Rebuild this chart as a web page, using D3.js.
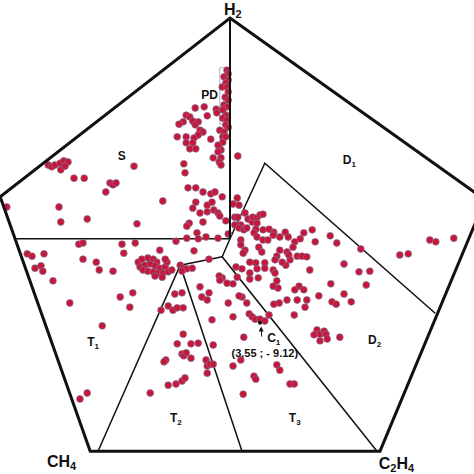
<!DOCTYPE html>
<html>
<head>
<meta charset="utf-8">
<script src="https://cdn.jsdelivr.net/npm/d3@7"></script>
<style>
body{margin:0;background:#fff}
svg{display:block}
text{font-family:"Liberation Sans",Arial,sans-serif;font-weight:bold;fill:#111}
</style>
</head>
<body>
<svg id="pentagon"></svg>
<script>
// pentagon outline and zone boundaries (Duval-like units)
var outline = [[0,40],[42.5,9.7],[25,-32.2],[-23.3,-32.2],[-38.3,10.2]];
var axisLine = [[0,40],[0,3.2]];
var zoneLines = [
    [[-35.6,3.2],[0,3.2]],
    [[0,3.2],[5.8,15.8],[34.2,-9.2]],
    [[0,3.2],[-1.3,0.2],[24.5,-32.2]],
    [[-1.3,0.2],[-8.3,-1.2]],
    [[-22,-32.2],[-8.3,-1.2],[2,-32.2]]
];
var pdBox = [[-1.7,31.7],[-0.5,22.3]];

var gasNames = [["H","2"],["CH","4"],["C","2","H","4"]];
var zoneNames = [["S"],["PD"],["D","1"],["D","2"],["T","1"],["T","2"],["T","3"]];
var c1Name = ["C","1"];
var c1Coords = "(3.55 ; - 9.12)";
var c1Point = [5,-10.8];

var pointsS = [
[-0.5,31.3],[-0.3,30.7],[-1,30.2],[-0.3,29.7],[-0.7,29.2],[-1.3,28.5],[-0.5,28.5],[-0.3,27.7],
[-0.8,26.8],[-0.3,26.3],[-1,25.5],[-0.5,25.2],[-1.2,24.7],[-0.7,23.8],[-1.2,23.3],[-0.5,23],
[-0.7,22.2],[-0.3,21.8],[-1.7,21.3],[-1,21],[-1.2,20.2],[-0.7,20.2],[-1.2,19.3],[-1.8,18.5],
[-1.5,18],[-2.8,16.7],[-1.5,16.7],[-2,18.8],
[-5.8,25],[-4.3,25.2],[-2.3,24.8],[-2.2,24.2],[-7.3,23.8],[-6.7,23.5],[-6.2,22.8],[-5.3,22.7],
[-7.8,22.7],[-8.5,22.3],[-5.8,22.2],[-3.8,23.7],[-5,21.3],[-4.5,21],[-5.3,20.5],[-3.2,19.8],
[-7.3,20.2],[-8.8,20.2],[-6,20],[-7.3,19.2],[-6.2,19.2],[-6.7,18.2],[-5.7,18.2],[-2,17.7],
[-1.8,16],[-1.5,15.5],[-7.7,15.7],[-7.5,14.2],[-16,15.3],
[-30.3,15.5],[-29.7,15.2],[-29.2,15.5],[-28.3,15.8],[-27.7,16.2],[-27,16],[-28.2,14.7],[-27.5,15.3],
[-26,13.3],[-24.3,13.3],[-20,12.5],[-19.5,12.2],[-19,12.5],[-20.7,11],
[-7,11.7],[-5.7,11.7],[-4.5,11],[-3.2,10.7],[-2.5,11],[-1.3,10.2],[-5.7,9.3],[-3.8,8.8],
[-3,9.3],[-6.2,8.3],[-5,7.5],[-3.8,7.7],[-2.7,8],[-2,7.5],[-1.7,7],[-0.7,6.2],
[-6.8,5.8],[-7.2,5.3],[-11.2,9.5],[-4.5,6],[-5.5,4.2],[-28.5,8.5],[-28.2,6],[-23.8,6.5],
[-15.5,5.7],[-37.2,8.5],[-4,3.5],[-2,3.3],[-7.2,3.3],[-0.3,4],[-5.3,3.2]
];
var pointsT1 = [
[-25.2,2.3],[-24.5,2.5],[-18,2.3],[-15.8,2.5],[-17.7,0.8],[-11.7,1.3],[-9,2.8],[-6,1.2],
[-33.8,0.7],[-33,0.3],[-31,0.7],[-32.5,-1.7],[-31.5,-1.3],[-31.2,-2.2],[-29.5,-3.8],
[-24.5,-0.2],[-22.3,-0.7],[-21.8,-2],[-19.5,-2.2],
[-15.3,-0.7],[-14.7,-0.2],[-13.7,0],[-12.8,-0.2],[-12.2,-0.7],[-15,-1.5],[-14.2,-1.2],[-13.3,-1],
[-12.5,-1.3],[-11.7,-1.7],[-10.8,-1.5],[-14.5,-2],[-13.7,-2.2],[-12.8,-2.3],[-12,-2.5],[-11.2,-2.5],
[-10.3,-2.3],[-9.7,-2],[-12.5,-3],[-11.3,-3.2],[-10.5,-0.7],[-8.3,-1.2],[-7.8,-1.7],[-7.2,-1.8],
[-8,-2.2],[-6.3,-1.7],[-10.8,-0.2],
[-18.3,-6.5],[-16.2,-5.8],[-16.7,-8.2],[-26.7,-7.5],[-21.3,-11.3],[-25,-23.5],[-23.8,-22.5],[-3.5,-0.2]
];
var pointsT2 = [
[-9.2,-6],[-8,-5.8],[-5,-4.8],[-4.7,-6.5],[-3.8,-7],[-11.5,-8.7],[-10.3,-8],[-9.5,-8.7],
[-8.8,-8.3],[-7.8,-8.3],[-7.8,-12.7],[-8.8,-14.3],[-6.5,-14.3],[-5.3,-14.2],[-8,-16],[-7.7,-16.3],
[-7.3,-15.8],[-6.5,-16.7],[-10.7,-17],[-11,-17.3],[-10.3,-21.2],[-9,-21],[-8,-20.5],[-7.5,-20],
[-13.3,-22.5],[-3.5,-5.8],[-1.3,-3.3],[-1.8,-3],[-0.5,-4.2],[-0.3,-7.5]
];
var pointsT3 = [
[-3,-10.3],[-2.8,-14.5],[-4,-17],[-3.8,-18],[-3.3,-17.7],[-2.8,-17.7],[-3.8,-19.2],[0.5,-18],
[0.5,-9.8],[-1.7,-3.7],[0.5,-4.3],[2.3,-13.2],[1.8,-17],[2.2,-22.7],[4,-19.7],[4.3,-20.2],
[7.8,-17.8],[8.3,-18.7],[10,-21],[10.7,-21],
[3.2,-9.3],[3.7,-9.8],[4.2,-10.2],[5,-10.2],[5.8,-10.5],
[2,-6.5],[1.5,-6.3],[2.8,-7.5],[8.2,-7.5],[6.5,-9.5],[10.7,-9.5]
];
var pointsD = [
[1.3,17],[1.2,10],[0.5,9],[1.5,8.8],[0.8,6.8],[1.3,6.8],[0.8,5.5],[1.8,5.5],[1.5,5],
[2.5,7.5],[3,6.5],[3.7,6],[3.8,6.8],[4.5,6.7],[5,7.2],[5.5,7.3],[4.5,5.8],[2.3,4.7],
[2.8,5],[4.3,4.8],[5.5,4.7],[6.5,4.8],[4,4.2],[4.5,3.5],[5.5,3],[6.3,3],[7.3,4.3],
[7.2,3.8],[8.3,3.5],[9.2,4.3],[9.7,3.5],[10.8,2.7],[12.3,4.2],[10.5,1.8],[11.7,3.2],
[8.3,1.3],[9.5,1],[11.2,0.3],[12,0.3],[12.8,0.2],[10,-0.3],[9.3,-1.2],[7.8,0.3],[7.5,-0.3],
[5.8,-0.8],[4.3,-0.8],[3.3,-0.7],[4.5,-1.8],[5.8,-1.7],[7.2,-2],[7.8,-3.8],[8,-5],[7.5,-2.5],
[2.5,1.3],[1.8,3],[1.8,2.2],[2.2,0.8],[1,-1.5],[1.2,-3.2],[3.3,-3.5],[4.7,-3.3],[7.2,-4.7],
[9.5,-7],[11.2,-7],[11.5,-4.7],[12.3,-5.3],[12.8,-7],[12.5,-8.2],[4.8,1.8],[5.3,1],
[8.7,-0.7],[9.8,0.5],[13.7,4.7],[16.7,3.7],[14.2,2.7],[17.8,2.5],[13.3,-2],[19,-1],
[21.8,1.5],[28.3,0.5],[29.7,0.7],[33.3,3],[34.3,2.7],[37.3,3.3],[21.5,-2.3],[23.3,-2.2],
[22.7,-4.5],[16.8,-4.3],[19,-6],[17,-7.3],[17.7,-7.7],[20.2,-7.3],[14.8,-6.3],[10.8,-5.3],
[7.3,-7.7],[3.3,-2.5],[2,-1.8],
[14.5,-12],[15,-12.7],[15.7,-12.2],[16,-12.7],[16.2,-13.5],[15,-13.8],[14,-12.8],[18.3,-13.2]
];

// label anchors (same units)
var gasAnchors = [[-1,40.5],[-30.5,-34.8],[24.8,-35.1]];
var zoneAnchors = [[-18.7,16.3],[-4.8,26.5],[18.8,15.7],[23,-14.3],[-23.8,-14.7],[-10,-27.3],[9.8,-27.3]];

var drawLabel = function(g, parts, x, y, size, subSize)
{
    var t = g.append("text")
        .attr("x", x)
        .attr("y", y)
        .style("font-size", size + "px");
    parts.forEach(function(p, i)
    {
        var isSub = i % 2 == 1;
        t.append("tspan")
            .attr("dy", i == 0 ? 0 : (isSub ? 3 : -3))
            .style("font-size", (isSub ? subSize : size) + "px")
            .text(p);
    });
    return t;
}

var displayPentagon = function(target)
{
    var screen = {width:474, height:474};

    var svg = d3.select(target)
        .attr("width", screen.width)
        .attr("height", screen.height);

    var xScale = d3.scaleLinear()
        .domain([-40, 40])
        .range([-10, 470]);

    var yScale = d3.scaleLinear()
        .domain([-35, 40])
        .range([468, 18]);

    var line = d3.line()
        .x(function(d){return xScale(d[0])})
        .y(function(d){return yScale(d[1])});

    var points = pointsS.concat(pointsT1, pointsT2, pointsT3, pointsD);

    svg.append("g")
        .selectAll("path")
        .data(zoneLines)
        .enter()
        .append("path")
        .attr("d", line)
        .attr("fill", "none")
        .attr("stroke", "#111")
        .attr("stroke-width", 1.5);

    svg.append("rect")
        .attr("x", xScale(pdBox[0][0]))
        .attr("y", yScale(pdBox[0][1]))
        .attr("width", xScale(pdBox[1][0]) - xScale(pdBox[0][0]))
        .attr("height", yScale(pdBox[1][1]) - yScale(pdBox[0][1]))
        .attr("fill", "none")
        .attr("stroke", "#a7b5c9")
        .attr("stroke-width", 1);

    svg.append("g")
        .selectAll("circle")
        .data(points)
        .enter()
        .append("circle")
        .attr("cx", function(d){return xScale(d[0])})
        .attr("cy", function(d){return yScale(d[1])})
        .attr("r", 3.4)
        .attr("fill", "#c8163b")
        .attr("stroke", "#80708f")
        .attr("stroke-width", 0.7);

    svg.append("path")
        .datum(axisLine)
        .attr("d", line)
        .attr("stroke", "#111")
        .attr("stroke-width", 2);

    svg.append("path")
        .datum(outline)
        .attr("d", function(d){return line(d) + "Z"})
        .attr("fill", "none")
        .attr("stroke", "#111")
        .attr("stroke-width", 3)
        .attr("stroke-linejoin", "miter");

    var labels = svg.append("g");

    gasNames.forEach(function(n, i)
    {
        drawLabel(labels, n, xScale(gasAnchors[i][0]), yScale(gasAnchors[i][1]), 16, 11);
    });

    zoneNames.forEach(function(n, i)
    {
        drawLabel(labels, n, xScale(zoneAnchors[i][0]), yScale(zoneAnchors[i][1]), 12, 8);
    });

    // C1 marker, arrow and its coordinates
    svg.append("circle")
        .attr("cx", xScale(c1Point[0]))
        .attr("cy", yScale(c1Point[1]))
        .attr("r", 2)
        .attr("fill", "#111");

    var ax = xScale(c1Point[0] + 0.2);
    var ay0 = yScale(c1Point[1] - 2.3);
    var ay1 = yScale(c1Point[1] - 0.6);
    svg.append("line")
        .attr("x1", ax + 0.5).attr("y1", ay0)
        .attr("x2", ax).attr("y2", ay1 + 2)
        .attr("stroke", "#111")
        .attr("stroke-width", 1);
    svg.append("path")
        .attr("d", "M" + ax + "," + ay1 + "l-2.5,5l5,0Z")
        .attr("fill", "#111");

    drawLabel(labels, c1Name, xScale(6.2), yScale(-14), 12, 8);
    labels.append("text")
        .attr("x", xScale(5.8))
        .attr("y", yScale(-16.5))
        .attr("text-anchor", "middle")
        .style("font-size", "11px")
        .text(c1Coords);
}

displayPentagon("#pentagon");
</script>
</body>
</html>
